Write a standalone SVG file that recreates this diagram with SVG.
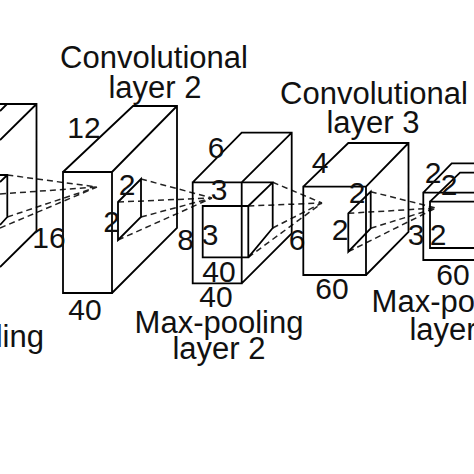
<svg xmlns="http://www.w3.org/2000/svg" width="474" height="474" viewBox="0 0 474 474">
<style>
.box{fill:none;stroke:#000;stroke-width:1.8;stroke-linejoin:miter}
.dash{fill:none;stroke:#222;stroke-width:1.5;stroke-dasharray:6 4}
text{font-family:"Liberation Sans",Arial,sans-serif;font-size:30px;fill:#111;text-anchor:middle}
.w{font-size:31px}
</style>
<rect width="474" height="474" fill="#fff"/>
<g id="connectors">
<path class="dash" d="M7.3,175 L97,187 M0,194 L97,187 M7.3,217 L97,187 M0,228 L97,187"/>
<path class="dash" d="M141,179 L212,198 M118,202 L212,198 M141,217 L212,198 M118,240 L212,198"/>
<path class="dash" d="M272.7,182.3 L322,203 M248.3,206 L322,203 M272.7,228 L322,203 M248.3,257.3 L322,203"/>
<path class="dash" d="M370.7,191.7 L436,208 M348.3,213.3 L436,208 M370.7,228.3 L436,208 M348.3,251.7 L436,208"/>
</g>
<g id="pool1">
<path class="box" d="M0,104 L36.5,104 L36.5,231 L0,267 M36.5,104 L0,140 M7,104 L0,111"/>
<path class="box" d="M0,175 L7.3,175 L7.3,217 L0,225 M7.3,175 L0,182"/>
<text class="w" x="44" y="347" style="text-anchor:end">Max-pooling</text>
</g>
<g id="conv2">
<path class="box" d="M63,172 L112,172 L112,293 L63,293 Z M63,172 L133,106 L177,106 L177,228 L112,293 M112,172 L177,106"/>
<path class="box" d="M118,202 L141,179 L141,217 L118,240 Z"/>
<text class="w" x="154" y="68">Convolutional</text>
<text class="w" x="155" y="98">layer 2</text>
<text x="84" y="138">12</text>
<text x="49" y="248">16</text>
<text x="127" y="195">2</text>
<text x="111.5" y="232">2</text>
<text x="85" y="320">40</text>
</g>
<g id="pool2">
<path class="box" d="M192.7,182.3 L241.7,182.3 L241.7,283.3 L192.7,283.3 Z M192.7,182.3 L241.7,132.7 L291.7,132.7 L291.7,233.3 L241.7,283.3 M241.7,182.3 L291.7,132.7"/>
<path class="box" d="M202.7,206 L248.3,206 L248.3,257.3 L202.7,257.3 Z M241.7,182.3 L272.7,182.3 L272.7,228 L248.3,257.3 M248.3,206 L272.7,182.3"/>
<text x="185.5" y="250">8</text>
<text x="216" y="158">6</text>
<text x="219" y="200">3</text>
<text x="210" y="245">3</text>
<text x="297" y="250">6</text>
<text x="219" y="282">40</text>
<text x="216" y="307">40</text>
<text class="w" x="219" y="333">Max-pooling</text>
<text class="w" x="219" y="359">layer 2</text>
</g>
<g id="conv3">
<path class="box" d="M303.3,186.7 L366,186.7 L366,275 L303.3,275 Z M303.3,186.7 L348.3,143 L408.5,143 L408.5,232 L366,275 M366,186.7 L408.5,143"/>
<path class="box" d="M348.3,213.3 L370.7,191.7 L370.7,228.3 L348.3,251.7 Z"/>
<text class="w" x="374" y="104">Convolutional</text>
<text class="w" x="373" y="133">layer 3</text>
<text x="320" y="173">4</text>
<text x="357" y="203">2</text>
<text x="340" y="240">2</text>
<text x="332" y="299">60</text>
</g>
<g id="pool3">
<path class="box" d="M476,192.7 L423.3,192.7 L423.3,260 L476,260 M423.3,192.7 L451.7,163.3 L476,163.3"/>
<path class="box" d="M476,201.7 L430,201.7 L430,248 L476,248 M430,201.7 L460,172.7 L476,172.7"/>
<text x="433" y="183">2</text>
<text x="449" y="195">2</text>
<text x="416" y="245">3</text>
<text x="438" y="245">2</text>
<text x="453" y="285">60</text>
<text class="w" x="456" y="312">Max-pooling</text>
<text class="w" x="456" y="340">layer 3</text>
</g>
</svg>
